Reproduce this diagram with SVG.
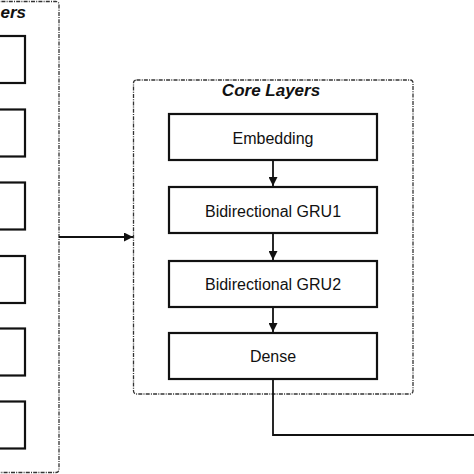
<svg xmlns="http://www.w3.org/2000/svg" width="474" height="474" viewBox="0 0 474 474">
<style>
.cont{fill:none;stroke:#333;stroke-width:1.3;stroke-dasharray:4 1.2 1 1.2}
.box{fill:#fff;stroke:#111;stroke-width:2.2}
.lbl{font-family:"Liberation Sans",Arial,sans-serif;font-size:16px;fill:#111;text-anchor:middle}
.ttl{font-family:"Liberation Sans",Arial,sans-serif;font-size:17px;font-weight:bold;font-style:italic;fill:#111}
.conn{fill:none;stroke:#111;stroke-width:1.8}
</style>
<defs>
<marker id="ah" viewBox="0 0 10 10" refX="10" refY="5" markerWidth="5" markerHeight="5" orient="auto" markerUnits="strokeWidth">
<path d="M0,0 L10,5 L0,10 z" fill="#111"/>
</marker>
</defs>
<rect width="474" height="474" fill="#fff"/>
<g id="left-layers">
<rect class="cont" x="-120" y="1.5" width="179" height="471" rx="3"/>
<text class="ttl" x="26" y="18" text-anchor="end">ers</text>
<rect class="box" x="-80" y="36" width="105" height="47"/>
<rect class="box" x="-80" y="109.5" width="105" height="47"/>
<rect class="box" x="-80" y="182.5" width="105" height="47"/>
<rect class="box" x="-80" y="256" width="105" height="47"/>
<rect class="box" x="-80" y="328.5" width="105" height="47"/>
<rect class="box" x="-80" y="401.5" width="105" height="47"/>
</g>
<g id="core-layers">
<rect class="cont" x="133.5" y="80" width="279.5" height="314" rx="3"/>
<text class="ttl" x="271" y="96" text-anchor="middle">Core Layers</text>
</g>
<g id="embedding">
<rect class="box" x="169" y="114" width="208" height="46"/>
<text class="lbl" x="273" y="143.5">Embedding</text>
</g>
<g id="gru1">
<rect class="box" x="169" y="187" width="208" height="46"/>
<text class="lbl" x="273" y="217">Bidirectional GRU1</text>
</g>
<g id="gru2">
<rect class="box" x="169" y="261" width="208" height="46"/>
<text class="lbl" x="273" y="289.5">Bidirectional GRU2</text>
</g>
<g id="dense">
<rect class="box" x="169" y="333" width="208" height="46"/>
<text class="lbl" x="273" y="362">Dense</text>
</g>
<g id="connectors">
<line class="conn" x1="59" y1="237" x2="133" y2="237" marker-end="url(#ah)"/>
<line class="conn" x1="273" y1="160" x2="273" y2="186" marker-end="url(#ah)"/>
<line class="conn" x1="273" y1="233" x2="273" y2="260" marker-end="url(#ah)"/>
<line class="conn" x1="273" y1="307" x2="273" y2="332" marker-end="url(#ah)"/>
<polyline class="conn" points="273,379 273,435 475,435"/>
</g>
</svg>
